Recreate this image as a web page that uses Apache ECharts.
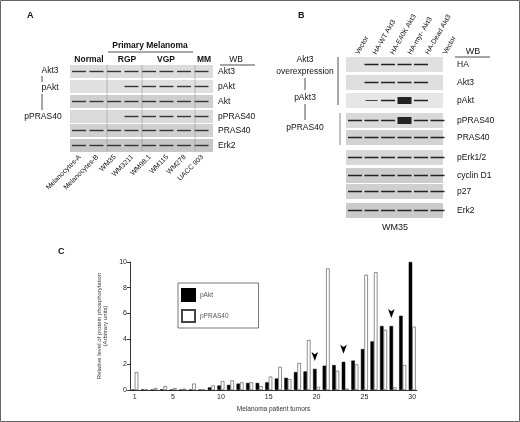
<!DOCTYPE html><html><head><meta charset="utf-8"><script src="https://cdn.jsdelivr.net/npm/echarts@6/dist/echarts.min.js"></script>
<style>body{margin:0;background:#fff}#c{width:520px;height:422px}</style></head><body><div id="c"></div><script>
const categories=['1','2','3','4','5','6','7','8','9','10','11','12','13','14','15','16','17','18','19','20','21','22','23','24','25','26','27','28','29','30'];
const pAkt=[0.02,0.03,0.02,0.05,0.02,0.03,0.02,0.02,0.2,0.35,0.4,0.5,0.55,0.55,0.6,0.9,0.95,1.4,1.45,1.65,1.9,1.95,2.2,2.3,3.2,3.8,5.0,5.0,5.8,10];
const pPRAS40=[1.4,0.02,0.15,0.3,0.15,0.1,0.5,0.02,0.35,0.7,0.75,0.6,0.6,0.3,1.05,1.8,0.85,2.1,3.9,0.25,9.5,1.5,0.1,2.0,9.0,9.2,4.7,0.2,1.95,4.95];
const arrowTumors=[20,23,28];
const blotA=['Akt3','pAkt','Akt','pPRAS40','PRAS40','Erk2'];
const blotB=['HA','Akt3','pAkt','pPRAS40','PRAS40','pErk1/2','cyclin D1','p27','Erk2'];
const laneA=['Melanocytes-A','Melanocytes-B','WM35','WM3211','WM98.1','WM115','WM278','UACC 903'];
const laneB=['Vector','HA-WT Akt3','HA-E40K Akt3','HA-myr- Akt3','HA-Dead Akt3','Vector'];
const g=[];const F='Liberation Sans, Arial';
const T=(x,y,t,o={},rot=0)=>g.push({type:'text',x,y,rotation:rot,style:Object.assign({text:t,fontSize:8.5,fontFamily:F,fill:'#111',verticalAlign:'middle'},o)});
const R=(x,y,w,h,f)=>g.push({type:'rect',shape:{x,y,width:w,height:h},style:{fill:f}});
const L=(x1,y1,x2,y2,w=0.8,c='#222')=>g.push({type:'line',shape:{x1,y1,x2,y2},style:{stroke:c,lineWidth:w}});
g.push({type:'rect',shape:{x:0.5,y:0.5,width:519,height:421},style:{fill:'none',stroke:'#666',lineWidth:1}});
T(27,16,'A',{fontWeight:'bold',fontSize:9});T(298,16,'B',{fontWeight:'bold',fontSize:9});T(58,252,'C',{fontWeight:'bold',fontSize:9});
T(150,46,'Primary Melanoma',{fontWeight:'bold',fontSize:8.5,align:'center'});L(108,52,193,52);
T(89,60,'Normal',{fontWeight:'bold',align:'center'});T(127,60,'RGP',{fontWeight:'bold',align:'center'});T(166,60,'VGP',{fontWeight:'bold',align:'center'});T(204,60,'MM',{fontWeight:'bold',align:'center'});
T(236,60,'WB',{align:'center'});L(220,65,255,65);
const yA=[65,80,95,110,124,139],cA=['#dcdcdc','#e0e0e0','#cfcfcf','#dadada','#d0d0d0','#c6c6c6'];
blotA.forEach((l,i)=>{R(70,yA[i],143,13,cA[i]);T(218,yA[i]+6.5,l);});
for(let k=0;k<8;k++){const x=79+k*17.5;blotA.forEach((l,i)=>{if((i==1||i==3)&&k<3)return;L(x-7,yA[i]+6.5,x+7,yA[i]+6.5,1.4,'#333');});}
L(107,65,107,151,0.5,'#888');L(142,65,142,151,0.5,'#888');L(195,65,195,151,0.5,'#888');
T(50,71,'Akt3',{align:'center'});T(50,88,'pAkt',{align:'center'});T(43,117,'pPRAS40',{align:'center'});
L(42,76,42,82,0.8);L(42,94,42,110,0.8);
laneA.forEach((l,i)=>T(80+i*17.5,156,l,{fontSize:7,align:'right'},Math.PI/4));
laneB.forEach((l,i)=>T(357+i*17.5,54,l,{fontSize:7,align:'left'},Math.PI/3));
T(473,52,'WB',{fontSize:9,align:'center'});L(455,57,490,57);
const yB=[57,75,93,113,130,150,168,184,203],cB=['#e0e0e0','#dedede','#e6e6e6','#d9d9d9','#d2d2d2','#d8d8d8','#cccccc','#d0d0d0','#cacaca'];
blotB.forEach((l,i)=>{R(346,yB[i],97,15,cB[i]);T(457,yB[i]+7.5,l);});
for(let k=0;k<6;k++){const x=355+k*16.5;blotB.forEach((l,i)=>{if(i<3&&(k==0||k==5))return;if(i==2&&k==1){L(x-6,yB[i]+7.5,x+6,yB[i]+7.5,1,'#444');return;}const big=(i==2||i==3)&&k==3;L(x-7,yB[i]+7.5,x+7,yB[i]+7.5,big?7:1.5,'#222');});}
T(305,60,'Akt3',{align:'center'});T(305,72,'overexpression',{align:'center'});T(305,98,'pAkt3',{align:'center'});T(305,128,'pPRAS40',{align:'center'});
L(305,78,305,90);L(305,104,305,120);L(338,57,338,105);L(340,113,340,145,1,'#888');
T(395,228,'WM35',{fontSize:9,align:'center'});
const opt={animation:false,graphic:g,
grid:{left:130,right:103,top:262,bottom:32},
legend:{orient:'vertical',left:178,top:283,itemWidth:13,itemHeight:12,itemGap:7,icon:'rect',borderColor:'#555',borderWidth:0.8,padding:[5,30,5,3],textStyle:{fontSize:6.5,fontFamily:F},data:['pAkt','pPRAS40']},
xAxis:{type:'category',data:categories,name:'Melanoma patient tumors',nameLocation:'middle',nameGap:16,nameTextStyle:{fontSize:6.5,fontFamily:F},
axisTick:{alignWithLabel:true,interval:0,length:3},axisLine:{lineStyle:{color:'#333'}},
axisLabel:{fontSize:7,fontFamily:F,color:'#222',margin:4,interval:0,formatter:v=>(v==='1'||+v%5===0)?v:''}},
yAxis:{type:'value',min:0,max:10,interval:2,name:'Relative level of protein phosphorylation\n(Arbitrary units)',nameLocation:'middle',nameGap:17,nameTextStyle:{fontSize:6,fontFamily:F},
splitLine:{show:false},axisLine:{show:true,lineStyle:{color:'#333'}},axisTick:{show:true,length:3},axisLabel:{fontSize:7,fontFamily:F,color:'#222',margin:3}},
series:[{name:'pAkt',type:'bar',data:pAkt,barWidth:3.5,barGap:'0%',itemStyle:{color:'#000',borderColor:'#000',borderWidth:0.5},
markPoint:{symbol:'arrow',symbolSize:[5,9],symbolRotate:180,symbolOffset:[0,-8],itemStyle:{color:'#000'},label:{show:false},data:arrowTumors.map(t=>({coord:[String(t),pAkt[t-1]]}))}},
{name:'pPRAS40',type:'bar',data:pPRAS40,barWidth:3.5,itemStyle:{color:'#fff',borderColor:'#444',borderWidth:0.6}}]};
echarts.init(document.getElementById('c')).setOption(opt);
</script></body></html>
